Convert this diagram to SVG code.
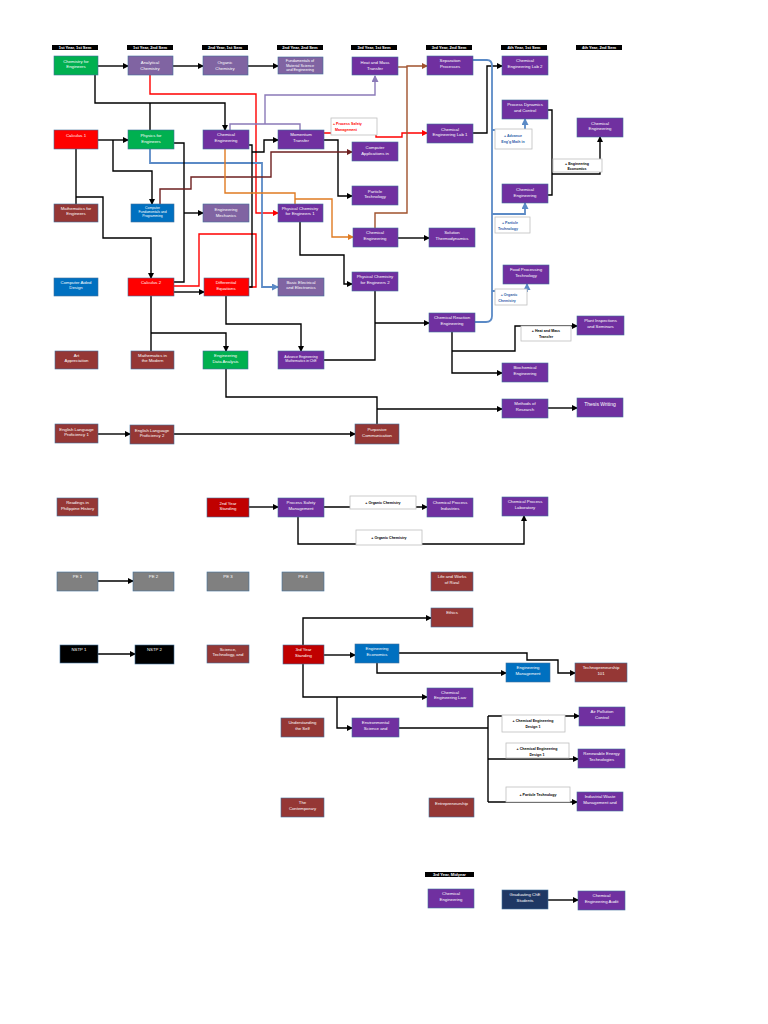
<svg xmlns="http://www.w3.org/2000/svg" width="768" height="1024" viewBox="0 0 768 1024">
<style>
text{font-family:"Liberation Sans",Arial,sans-serif;fill:#fff;font-size:4.3px;text-anchor:middle}
.hd rect{fill:#000}.hd text{font-weight:bold;font-size:4px}
.n rect{stroke:#41719c;stroke-width:0.6}
.p rect{fill:#7030a0}.lp rect{fill:#8064a2}.g rect{fill:#00b050}.r rect{fill:#ff0000}.dr rect{fill:#c00000}
.b rect{fill:#0070c0}.br rect{fill:#953735}.gy rect{fill:#808080}.k rect{fill:#000}.nv rect{fill:#1f3864}
.lb rect{fill:#fff;stroke:#bfbfbf;stroke-width:0.8}.lb text{fill:#000;font-size:3.6px;font-weight:bold}
.c path{fill:none;stroke-width:1.4}
.bk{stroke:#000}.rd{stroke:#ff0000}.bl{stroke:#5b8ac6;stroke-width:1.8!important}.or{stroke:#e07b22}.bw{stroke:#a0522d}.lpu{stroke:#8b7ab8}.mr{stroke:#6e2020}
</style>
<defs>
<marker id="ak" markerWidth="6" markerHeight="6" refX="5" refY="3" orient="auto" markerUnits="userSpaceOnUse"><path d="M0,0L6,3L0,6z" fill="#000"/></marker>
<marker id="ar" markerWidth="6" markerHeight="6" refX="5" refY="3" orient="auto" markerUnits="userSpaceOnUse"><path d="M0,0L6,3L0,6z" fill="#ff0000"/></marker>
<marker id="ab" markerWidth="7" markerHeight="7" refX="6" refY="3.5" orient="auto" markerUnits="userSpaceOnUse"><path d="M0,0L7,3.5L0,7z" fill="#5b8ac6"/></marker>
<marker id="ao" markerWidth="6" markerHeight="6" refX="5" refY="3" orient="auto" markerUnits="userSpaceOnUse"><path d="M0,0L6,3L0,6z" fill="#e07b22"/></marker>
<marker id="aw" markerWidth="6" markerHeight="6" refX="5" refY="3" orient="auto" markerUnits="userSpaceOnUse"><path d="M0,0L6,3L0,6z" fill="#a0522d"/></marker>
<marker id="ap" markerWidth="7" markerHeight="7" refX="6" refY="3.5" orient="auto" markerUnits="userSpaceOnUse"><path d="M0,0L7,3.5L0,7z" fill="#8b7ab8"/></marker>
<marker id="am" markerWidth="6" markerHeight="6" refX="5" refY="3" orient="auto" markerUnits="userSpaceOnUse"><path d="M0,0L6,3L0,6z" fill="#6e2020"/></marker>
</defs>
<rect width="768" height="1024" fill="#fff"/>

<g id="headers" class="hd">
<rect x="52" y="45" width="46" height="5"/><text x="75" y="49">1st Year, 1st Sem</text>
<rect x="127" y="45" width="46" height="5"/><text x="150" y="49">1st Year, 2nd Sem</text>
<rect x="202" y="45" width="46" height="5"/><text x="225" y="49">2nd Year, 1st Sem</text>
<rect x="277" y="45" width="46" height="5"/><text x="300" y="49">2nd Year, 2nd Sem</text>
<rect x="351" y="45" width="46" height="5"/><text x="374" y="49">3rd Year, 1st Sem</text>
<rect x="426" y="45" width="46" height="5"/><text x="449" y="49">3rd Year, 2nd Sem</text>
<rect x="501" y="45" width="46" height="5"/><text x="524" y="49">4th Year, 1st Sem</text>
<rect x="576" y="45" width="46" height="5"/><text x="599" y="49">4th Year, 2nd Sem</text>
<rect x="425" y="872" width="49" height="5"/><text x="449.5" y="876">3rd Year, Midyear</text>
</g>

<g id="connectors" class="c">
<path class="bk" d="M98,66H128" marker-end="url(#ak)"/>
<path class="bk" d="M173,66H203" marker-end="url(#ak)"/>
<path class="bk" d="M248,66H278" marker-end="url(#ak)"/>
<path class="bk" d="M95,75V103H225V130" marker-end="url(#ak)"/>
<path class="bk" d="M150,130V103"/>
<path class="rd" d="M150,75V94H256V213H278" marker-end="url(#ar)"/>
<path class="rd" d="M174,286H199V234H256V287H249"/>
<path class="lpu" d="M230,130V124H300V130"/>
<path class="lpu" d="M265,124V95H375V76" marker-end="url(#ap)"/>
<path class="bk" d="M98,140H128" marker-end="url(#ak)"/>
<path class="bk" d="M113,140V171H152V204" marker-end="url(#ak)"/>
<path class="bl" style="stroke-width:1.2" d="M150,149V163H262V287H278" marker-end="url(#ab)"/>
<path class="bk" d="M76,149V204"/>
<path class="bk" d="M76,197H103V238H151V278" marker-end="url(#ak)"/>
<path class="bk" d="M174,143H184V282H174"/>
<path class="bk" d="M184,213H203" marker-end="url(#ak)"/>
<path class="bk" d="M174,292H204" marker-end="url(#ak)"/>
<path class="bk" d="M249,145H252V287H249"/>
<path class="bk" d="M252,152H264V140H278" marker-end="url(#ak)"/>
<path class="bk" d="M324,140H338V196H352" marker-end="url(#ak)"/>
<path class="rd" d="M324,133H376V137H402V133H427" marker-end="url(#ar)"/>
<path class="mr" d="M160,204V189H191V177H271V152H352" marker-end="url(#am)"/>
<path class="or" d="M225,149V193H295V204"/>
<path class="or" d="M295,199H332V237H353" marker-end="url(#ao)"/>
<path class="bw" d="M375,228V213H407V66H427" marker-end="url(#aw)"/>
<path class="bw" d="M398,67H407"/>
<path class="bk" d="M473,133H487V66H502" marker-end="url(#ak)"/>
<path class="bl" d="M473,60H487Q492,60 492,66V316Q492,322 486,322H475"/>
<path class="bl" d="M492,130H525V119" marker-end="url(#ab)"/>
<path class="bl" d="M492,214H525V203" marker-end="url(#ab)"/>
<path class="bl" d="M492,291H527V284" marker-end="url(#ab)"/>
<path class="bk" d="M548,110H552V195H548"/>
<path class="bk" d="M552,174H600V137" marker-end="url(#ak)"/>
<path class="bk" d="M398,238H429" marker-end="url(#ak)"/>
<path class="bk" d="M300,222V255H344V284H352" marker-end="url(#ak)"/>
<path class="bk" d="M375,291V360H324"/>
<path class="bk" d="M375,323H429" marker-end="url(#ak)"/>
<path class="bk" d="M226,296V324H301V351" marker-end="url(#ak)"/>
<path class="bk" d="M151,296V351"/>
<path class="bk" d="M151,333H226V351" marker-end="url(#ak)"/>
<path class="bk" d="M226,369V397H377V424"/>
<path class="bk" d="M377,409H502" marker-end="url(#ak)"/>
<path class="bk" d="M548,408H577" marker-end="url(#ak)"/>
<path class="bk" d="M452,332V373H502" marker-end="url(#ak)"/>
<path class="bk" d="M452,351H515V326H577" marker-end="url(#ak)"/>
<path class="bk" d="M98,434H130" marker-end="url(#ak)"/>
<path class="bk" d="M174,434H355" marker-end="url(#ak)"/>
<path class="bk" d="M249,507H278" marker-end="url(#ak)"/>
<path class="bk" d="M324,507H427" marker-end="url(#ak)"/>
<path class="bk" d="M298,517V544H524V516" marker-end="url(#ak)"/>
<path class="bk" d="M98,581H133" marker-end="url(#ak)"/>
<path class="bk" d="M98,654H135" marker-end="url(#ak)"/>
<path class="bk" d="M324,655H355" marker-end="url(#ak)"/>
<path class="bk" d="M303,645V618H431" marker-end="url(#ak)"/>
<path class="bk" d="M303,664V697H427" marker-end="url(#ak)"/>
<path class="bk" d="M337,697V728H352" marker-end="url(#ak)"/>
<path class="bk" d="M399,653H527V660H558V673H575" marker-end="url(#ak)"/>
<path class="bk" d="M377,663V673H506" marker-end="url(#ak)"/>
<path class="bk" d="M399,728H488"/>
<path class="bk" d="M488,716V802"/>
<path class="bk" d="M488,716H579" marker-end="url(#ak)"/>
<path class="bk" d="M488,759H578" marker-end="url(#ak)"/>
<path class="bk" d="M488,802H577" marker-end="url(#ak)"/>
<path class="bk" d="M548,900H578" marker-end="url(#ak)"/>
</g>

<g id="labels" class="lb">
<g id="l1"><rect x="331" y="118" width="46" height="17"/><text x="354" y="125" style="fill:#ff0000;text-anchor:start" dx="-21">+ Process Safety</text><text x="335" y="131" style="fill:#ff0000;text-anchor:start">Management</text></g>
<g id="l2"><rect x="495" y="129" width="37" height="20"/><text x="513" y="137" style="fill:#2e5ea8">+ Advance</text><text x="513" y="143" style="fill:#2e5ea8">Eng'g Math in</text></g>
<g id="l3"><rect x="553" y="159" width="49" height="13"/><text x="577" y="164.5">+ Engineering</text><text x="577" y="170">Economics</text></g>
<g id="l4"><rect x="495" y="217" width="35" height="16"/><text x="510" y="223.5" style="fill:#2e5ea8">+ Particle</text><text x="508" y="229.5" style="fill:#2e5ea8">Technology</text></g>
<g id="l5"><rect x="495" y="289" width="32" height="16"/><text x="509" y="296" style="fill:#2e5ea8">+ Organic</text><text x="507" y="302" style="fill:#2e5ea8">Chemistry</text></g>
<g id="l6"><rect x="521" y="326" width="50" height="15"/><text x="546" y="332">+ Heat and Mass</text><text x="546" y="338">Transfer</text></g>
<g id="l7"><rect x="350" y="496" width="66" height="13"/><text x="383" y="504">+    Organic Chemistry</text></g>
<g id="l8"><rect x="356" y="530" width="66" height="15"/><text x="389" y="539">+    Organic Chemistry</text></g>
<g id="l9"><rect x="502" y="715" width="63" height="17"/><text x="533" y="722">+ Chemical Engineering</text><text x="533" y="728">Design 1</text></g>
<g id="l10"><rect x="506" y="743" width="63" height="15"/><text x="537" y="750">+ Chemical Engineering</text><text x="537" y="755.5">Design 1</text></g>
<g id="l11"><rect x="506" y="787" width="64" height="15"/><text x="538" y="796">+ Particle Technology</text></g>
</g>

<g id="nodes" class="n">
<g id="n1" class="g"><rect x="54" y="56" width="44" height="19"/><text x="76" y="63">Chemistry for</text><text x="76" y="68">Engineers</text></g>
<g id="n2" class="lp"><rect x="128" y="56" width="45" height="19"/><text x="150" y="64">Analytical</text><text x="150" y="70">Chemistry</text></g>
<g id="n3" class="lp"><rect x="203" y="56" width="45" height="19"/><text x="225" y="64">Organic</text><text x="225" y="70">Chemistry</text></g>
<g id="n4" class="lp"><rect x="278" y="57" width="45" height="17"/><text x="300" y="62" style="font-size:3.8px">Fundamentals of</text><text x="300" y="66.5" style="font-size:3.8px">Material  Science</text><text x="300" y="71" style="font-size:3.8px">and Engineering</text></g>
<g id="n5" class="p"><rect x="352" y="57" width="46" height="18"/><text x="375" y="64">Heat and Mass</text><text x="375" y="69.5">Transfer</text></g>
<g id="n6" class="p"><rect x="427" y="56" width="46" height="19"/><text x="450" y="62">Separation</text><text x="450" y="67.5">Processes</text></g>
<g id="n7" class="p"><rect x="502" y="56" width="46" height="19"/><text x="525" y="62">Chemical</text><text x="525" y="67.5">Engineering Lab 2</text></g>
<g id="n8" class="r"><rect x="54" y="130" width="44" height="19"/><text x="76" y="137">Calculus 1</text></g>
<g id="n9" class="g"><rect x="128" y="130" width="46" height="19"/><text x="151" y="137">Physics for</text><text x="151" y="143">Engineers</text></g>
<g id="n10" class="p"><rect x="203" y="130" width="46" height="19"/><text x="226" y="136">Chemical</text><text x="226" y="141.5">Engineering</text></g>
<g id="n11" class="p"><rect x="278" y="130" width="46" height="19"/><text x="301" y="136">Momentum</text><text x="301" y="141.5">Transfer</text></g>
<g id="n12" class="p"><rect x="352" y="142" width="46" height="19"/><text x="375" y="149">Computer</text><text x="375" y="154.5">Applications in</text></g>
<g id="n13" class="p"><rect x="427" y="124" width="46" height="19"/><text x="450" y="130.5">Chemical</text><text x="450" y="136">Engineering Lab 1</text></g>
<g id="n14" class="p"><rect x="502" y="100" width="46" height="19"/><text x="525" y="106">Process Dynamics</text><text x="525" y="111.5">and Control</text></g>
<g id="n15" class="p"><rect x="577" y="118" width="46" height="19"/><text x="600" y="124.5">Chemical</text><text x="600" y="130">Engineering</text></g>
<g id="n16" class="p"><rect x="352" y="186" width="46" height="19"/><text x="375" y="192.5">Particle</text><text x="375" y="198">Technology</text></g>
<g id="n17" class="p"><rect x="502" y="184" width="46" height="19"/><text x="525" y="190.5">Chemical</text><text x="525" y="196.5">Engineering</text></g>
<g id="n18" class="br"><rect x="54" y="204" width="44" height="18"/><text x="76" y="210">Mathematics for</text><text x="76" y="215">Engineers</text></g>
<g id="n19" class="b"><rect x="131" y="204" width="43" height="18"/><text x="152.5" y="208.5" style="font-size:3.4px">Computer</text><text x="152.5" y="212.5" style="font-size:3.4px">Fundamentals and</text><text x="152.5" y="216.5" style="font-size:3.4px">Programming</text></g>
<g id="n20" class="lp"><rect x="203" y="204" width="46" height="18"/><text x="226" y="211">Engineering</text><text x="226" y="217">Mechanics</text></g>
<g id="n21" class="p"><rect x="278" y="204" width="45" height="18"/><text x="300" y="209.5">Physical Chemistry</text><text x="300" y="215">for Engineers 1</text></g>
<g id="n22" class="p"><rect x="353" y="228" width="45" height="19"/><text x="375" y="234">Chemical</text><text x="375" y="239.5">Engineering</text></g>
<g id="n23" class="p"><rect x="429" y="228" width="46" height="19"/><text x="452" y="234">Solution</text><text x="452" y="239.5">Thermodynamics</text></g>
<g id="n24" class="p"><rect x="503" y="265" width="46" height="19"/><text x="526" y="271">Food Processing</text><text x="526" y="276.5">Technology</text></g>
<g id="n25" class="b"><rect x="54" y="278" width="44" height="18"/><text x="76" y="283.5">Computer Aided</text><text x="76" y="289">Design</text></g>
<g id="n26" class="r"><rect x="128" y="278" width="46" height="18"/><text x="151" y="284">Calculus 2</text></g>
<g id="n27" class="r"><rect x="204" y="278" width="45" height="18"/><text x="226" y="284">Differential</text><text x="226" y="290">Equations</text></g>
<g id="n28" class="lp"><rect x="278" y="278" width="46" height="18"/><text x="301" y="283.5">Basic Electrical</text><text x="301" y="289">and Electronics</text></g>
<g id="n29" class="p"><rect x="352" y="272" width="46" height="19"/><text x="375" y="278">Physical Chemistry</text><text x="375" y="283.5">for Engineers 2</text></g>
<g id="n30" class="p"><rect x="429" y="313" width="46" height="19"/><text x="452" y="319">Chemical Reaction</text><text x="452" y="325">Engineering</text></g>
<g id="n31" class="p"><rect x="577" y="316" width="47" height="19"/><text x="600.5" y="322">Plant Inspections</text><text x="600.5" y="327.5">and Seminars</text></g>
<g id="n32" class="p"><rect x="502" y="363" width="46" height="19"/><text x="525" y="369">Biochemical</text><text x="525" y="374.5">Engineering</text></g>
<g id="n33" class="br"><rect x="55" y="351" width="43" height="18"/><text x="76.5" y="356.5">Art</text><text x="76.5" y="362">Appreciation</text></g>
<g id="n34" class="br"><rect x="131" y="351" width="43" height="18"/><text x="152.5" y="356.5">Mathematics in</text><text x="152.5" y="362">the Modern</text></g>
<g id="n35" class="g"><rect x="203" y="351" width="45" height="18"/><text x="225.5" y="357">Engineering</text><text x="225.5" y="363">Data Analysis</text></g>
<g id="n36" class="p"><rect x="278" y="351" width="46" height="18"/><text x="301" y="357.5" style="font-size:3.5px">Advance Engineering</text><text x="301" y="362" style="font-size:3.5px">Mathematics in ChE</text></g>
<g id="n37" class="p"><rect x="502" y="399" width="46" height="19"/><text x="525" y="405">Methods of</text><text x="525" y="410.5">Research</text></g>
<g id="n38" class="p"><rect x="577" y="398" width="46" height="19"/><text x="600" y="406" style="font-size:5px">Thesis Writing</text></g>
<g id="n39" class="br"><rect x="55" y="424" width="43" height="19"/><text x="76.5" y="430.5">English Language</text><text x="76.5" y="436">Proficiency 1</text></g>
<g id="n40" class="br"><rect x="130" y="425" width="44" height="19"/><text x="152" y="431.5">English Language</text><text x="152" y="437">Proficiency 2</text></g>
<g id="n41" class="br"><rect x="355" y="424" width="44" height="20"/><text x="377" y="431">Purposive</text><text x="377" y="436.5">Communication</text></g>
<g id="n42" class="br"><rect x="57" y="498" width="41" height="18"/><text x="77.5" y="504">Readings in</text><text x="77.5" y="509.5">Philippine History</text></g>
<g id="n43" class="dr"><rect x="207" y="498" width="42" height="19"/><text x="228" y="504.5">2nd Year</text><text x="228" y="510">Standing</text></g>
<g id="n44" class="p"><rect x="278" y="498" width="46" height="19"/><text x="301" y="504">Process Safety</text><text x="301" y="509.5">Management</text></g>
<g id="n45" class="p"><rect x="427" y="498" width="46" height="19"/><text x="450" y="504">Chemical Process</text><text x="450" y="509.5">Industries</text></g>
<g id="n46" class="p"><rect x="502" y="497" width="46" height="19"/><text x="525" y="503">Chemical Process</text><text x="525" y="508.5">Laboratory</text></g>
<g id="n47" class="gy"><rect x="57" y="572" width="41" height="19"/><text x="77.5" y="577.5">PE 1</text></g>
<g id="n48" class="gy"><rect x="133" y="572" width="41" height="19"/><text x="153.5" y="577.5">PE 2</text></g>
<g id="n49" class="gy"><rect x="207" y="572" width="42" height="19"/><text x="228" y="577.5">PE 3</text></g>
<g id="n50" class="gy"><rect x="282" y="572" width="42" height="19"/><text x="303" y="577.5">PE 4</text></g>
<g id="n51" class="br"><rect x="431" y="572" width="42" height="19"/><text x="452" y="578">Life and Works</text><text x="452" y="583.5">of Rizal</text></g>
<g id="n52" class="br"><rect x="431" y="608" width="42" height="19"/><text x="452" y="614">Ethics</text></g>
<g id="n53" class="k"><rect x="60" y="645" width="38" height="18"/><text x="79" y="650.5">NSTP 1</text></g>
<g id="n54" class="k"><rect x="135" y="645" width="39" height="19"/><text x="154.5" y="651">NSTP 2</text></g>
<g id="n55" class="br"><rect x="207" y="645" width="42" height="18"/><text x="228" y="650.5">Science,</text><text x="228" y="656">Technology, and</text></g>
<g id="n56" class="dr"><rect x="283" y="645" width="41" height="19"/><text x="303.5" y="651">3rd Year</text><text x="303.5" y="656.5">Standing</text></g>
<g id="n57" class="b"><rect x="355" y="644" width="44" height="19"/><text x="377" y="650">Engineering</text><text x="377" y="655.5">Economics</text></g>
<g id="n58" class="b"><rect x="506" y="663" width="44" height="19"/><text x="528" y="669">Engineering</text><text x="528" y="674.5">Management</text></g>
<g id="n59" class="br"><rect x="575" y="663" width="52" height="19"/><text x="601" y="669">Technopreneurship</text><text x="601" y="674.5">101</text></g>
<g id="n60" class="p"><rect x="427" y="688" width="46" height="19"/><text x="450" y="693.5">Chemical</text><text x="450" y="699">Engineering Law</text></g>
<g id="n61" class="br"><rect x="281" y="718" width="43" height="19"/><text x="302.5" y="724">Understanding</text><text x="302.5" y="729.5">the Self</text></g>
<g id="n62" class="p"><rect x="352" y="718" width="47" height="19"/><text x="375.5" y="724">Environmental</text><text x="375.5" y="729.5">Science and</text></g>
<g id="n63" class="p"><rect x="579" y="707" width="46" height="19"/><text x="602" y="713">Air Pollution</text><text x="602" y="718.5">Control</text></g>
<g id="n64" class="p"><rect x="578" y="749" width="47" height="19"/><text x="601.5" y="755">Renewable Energy</text><text x="601.5" y="760.5">Technologies</text></g>
<g id="n65" class="p"><rect x="577" y="792" width="46" height="19"/><text x="600" y="798">Industrial Waste</text><text x="600" y="803.5">Management and</text></g>
<g id="n66" class="br"><rect x="281" y="798" width="43" height="19"/><text x="302.5" y="804">The</text><text x="302.5" y="809.5">Contemporary</text></g>
<g id="n67" class="br"><rect x="429" y="798" width="45" height="19"/><text x="451.5" y="804.5">Entrepreneurship</text></g>
<g id="n68" class="p"><rect x="428" y="889" width="46" height="19"/><text x="451" y="895">Chemical</text><text x="451" y="900.5">Engineering</text></g>
<g id="n69" class="nv"><rect x="502" y="890" width="46" height="19"/><text x="525" y="896">Graduating ChE</text><text x="525" y="901.5">Students</text></g>
<g id="n70" class="p"><rect x="578" y="891" width="47" height="19"/><text x="601.5" y="897">Chemical</text><text x="601.5" y="902.5">Engineering Audit</text></g>
</g>
</svg>
